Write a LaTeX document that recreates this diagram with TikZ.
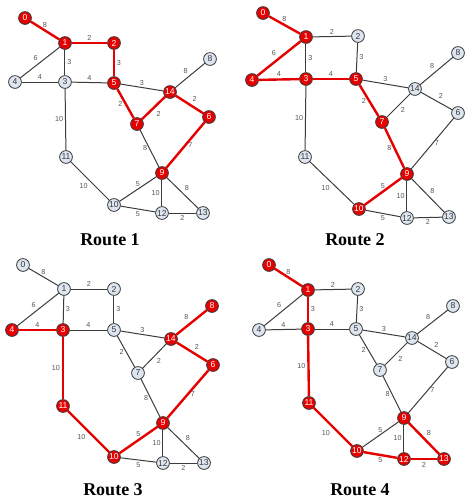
\documentclass[tikz,border=0pt]{standalone}
\usepackage{fontspec}
\setmainfont{Liberation Serif}
\newfontfamily\digitfont{Liberation Sans}
\usepackage{xcolor}
\usetikzlibrary{positioning}

\definecolor{vertexfill}{HTML}{DDE6F0}
\definecolor{vertexline}{HTML}{3A3A3A}
\definecolor{routered}{HTML}{E60000}
\definecolor{linkgray}{HTML}{3C3C3C}
\definecolor{labelgray}{HTML}{555555}

% edges of the network: from/to/weight/label side
\newcommand{\graphedges}{0/1/8/above, 1/2/2/above, 1/4/6/above left, 1/3/3/right,
  2/5/3/right, 4/3/4/above, 3/5/4/above, 3/11/10/left, 5/14/3/above, 5/7/2/left,
  14/8/8/above left, 14/7/2/below right, 14/6/2/above right, 6/9/7/right,
  7/9/8/left, 11/10/10/below left, 9/10/5/above, 9/12/10/left,
  9/13/8/above right, 10/12/5/below, 12/13/2/below}

% #1 shift, #2 vertices, #3 route vertices, #4 route edges, #5 title, #6 title x
\newcommand{\routepanel}[6]{%
  \begin{scope}[shift={#1},
      on route/.style={v##1/.style=hotvertex}, on route/.list={#3},
      route leg/.style={e##1/.style=hotlink}, route leg/.list={#4}]
    \foreach \vid/\vx/\vy in {#2}
      \node[vertex, v\vid/.try] (r#5v\vid) at (\vx,\vy) {\vid};
    \foreach \va/\vb/\w/\side in \graphedges
      \draw[link, e\va-\vb/.try] (r#5v\va) -- node[wlabel, \side] {\w} (r#5v\vb);
    \node[routetitle] (title#5) at (#6,245.5) {Route #5};
  \end{scope}}

\begin{document}
\begin{tikzpicture}[
    x=0.5pt, y=-0.5pt,
    vertex/.style={circle, draw=vertexline, fill=vertexfill, line width=0.4pt, minimum size=6.4pt, inner sep=0pt, font=\digitfont\fontsize{4.3}{4.3}\selectfont, text=vertexline},
    hotvertex/.style={fill=routered, text=white},
    link/.style={draw=linkgray, line width=0.5pt},
    hotlink/.style={draw=routered, line width=1.2pt},
    wlabel/.style={font=\digitfont\fontsize{3.6}{3.6}\selectfont, text=labelgray, inner sep=0.9pt},
    routetitle/.style={font=\bfseries\fontsize{9}{9}\selectfont, anchor=base}
]
\useasboundingbox (0,0) rectangle (474,500);

% Route 1
\routepanel{(0,0)}{0/25/18, 1/65/43, 2/114/43, 3/65/82, 4/15/82, 5/114/83, 6/209/117,
  7/137/124, 8/210/59, 9/162/173, 10/114/205, 11/66/157, 12/162/213, 13/203/213, 14/170/92}
  {0,1,2,5,7,14,6,9}{0-1,1-2,2-5,5-7,14-7,14-6,6-9}{1}{110}

% Route 2
\routepanel{(237,0)}{0/26/13, 1/69/37, 2/121/36, 3/69/79, 4/15/80, 5/119/79, 6/221/113,
  7/145/122, 8/221/53, 9/170/174, 10/122/209, 11/68/157, 12/170/218, 13/212/217, 14/178/89}
  {0,1,4,3,5,7,9,10}{0-1,1-4,4-3,3-5,5-7,7-9,9-10}{2}{118}

% Route 3
\routepanel{(0,250)}{0/23/15, 1/64/39, 2/114/39, 3/63/80, 4/12/80, 5/114/80, 6/213/115,
  7/138/123, 8/212/56, 9/163/173, 10/114/207, 11/63/156, 12/163/213, 13/204/213, 14/171/89}
  {4,3,11,10,9,6,14,8}{4-3,3-11,11-10,9-10,6-9,14-6,14-8}{3}{113}

% Route 4
\routepanel{(237,250)}{0/32/15, 1/71/40, 2/121/39, 3/71/79, 4/22/80, 5/119/79, 6/215/112,
  7/143/120, 8/216/56, 9/167/168, 10/120/201, 11/72/153, 12/167/209, 13/207/209, 14/175/88}
  {0,1,3,11,10,12,13,9}{0-1,1-3,3-11,11-10,10-12,12-13,9-13}{4}{123}

\end{tikzpicture}
\end{document}
